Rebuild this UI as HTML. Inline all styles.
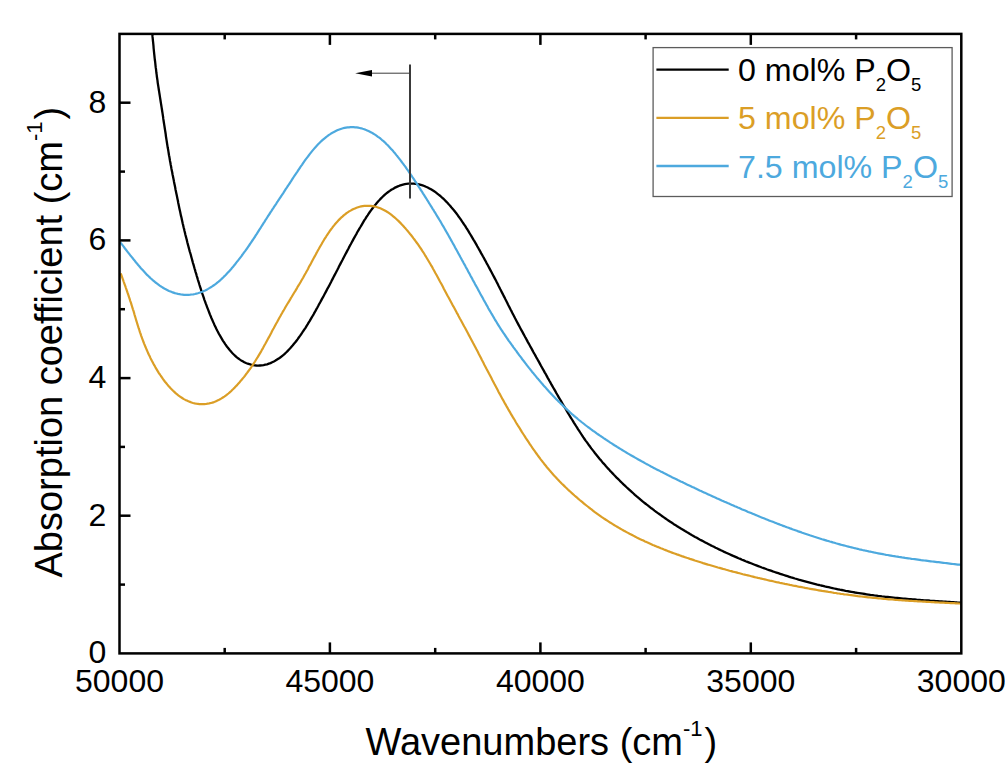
<!DOCTYPE html>
<html><head><meta charset="utf-8"><style>
html,body{margin:0;padding:0;background:#fff;}
svg{display:block;font-family:"Liberation Sans",sans-serif;}
</style></head><body>
<svg width="1005" height="778" viewBox="0 0 1005 778">
<rect width="1005" height="778" fill="#fff"/>
<g fill="none" stroke-linejoin="round" stroke-linecap="butt">
<path d="M152.4,34.5 L152.5,36.4 L152.7,38.4 L152.9,40.3 L153.1,42.2 L153.3,44.1 L153.5,46.1 L153.6,48.0 L153.8,49.9 L154.0,51.8 L154.2,53.8 L154.4,55.7 L154.6,57.6 L154.8,59.5 L155.1,61.5 L155.3,63.4 L155.5,65.3 L155.7,67.2 L156.0,69.1 L156.2,71.1 L156.4,73.0 L156.7,74.9 L156.9,76.8 L157.2,78.7 L157.5,80.6 L157.7,82.6 L158.0,84.5 L158.3,86.4 L158.6,88.3 L158.9,90.2 L159.2,92.1 L159.5,94.0 L159.8,95.9 L160.1,97.9 L160.4,99.8 L160.7,101.7 L161.0,103.6 L161.3,105.5 L161.6,107.4 L161.9,109.3 L162.2,111.2 L162.5,113.2 L162.8,115.1 L163.1,117.0 L163.3,118.9 L163.6,120.8 L163.9,122.7 L164.2,124.6 L164.5,126.5 L164.8,128.5 L165.1,130.4 L165.4,132.3 L165.7,134.2 L165.9,136.1 L166.2,138.0 L166.5,139.9 L166.8,141.8 L167.1,143.7 L167.4,145.7 L167.7,147.6 L168.1,149.5 L168.4,151.4 L168.7,153.3 L169.0,155.2 L169.4,157.1 L169.7,159.0 L170.0,160.9 L170.4,162.8 L170.7,164.7 L171.1,166.6 L171.4,168.5 L171.8,170.4 L172.2,172.3 L172.5,174.2 L172.9,176.1 L173.3,178.0 L173.7,179.9 L174.0,181.8 L174.4,183.7 L174.8,185.6 L175.2,187.5 L175.5,189.4 L175.9,191.3 L176.3,193.2 L176.7,195.1 L177.1,197.0 L177.5,198.9 L177.9,200.8 L178.2,202.7 L178.6,204.6 L179.0,206.5 L179.4,208.4 L179.8,210.2 L180.2,212.1 L180.6,214.0 L181.0,215.9 L181.5,217.8 L181.9,219.7 L182.3,221.6 L182.7,223.5 L183.2,225.4 L183.6,227.2 L184.1,229.1 L184.5,231.0 L185.0,232.9 L185.4,234.8 L185.9,236.6 L186.4,238.5 L186.9,240.4 L187.3,242.2 L187.8,244.1 L188.3,246.0 L188.8,247.9 L189.3,249.7 L189.8,251.6 L190.4,253.5 L190.9,255.3 L191.4,257.2 L191.9,259.0 L192.4,260.9 L192.9,262.8 L193.5,264.6 L194.0,266.5 L194.5,268.3 L195.1,270.2 L195.6,272.1 L196.2,273.9 L196.7,275.8 L197.3,277.6 L197.8,279.5 L198.4,281.3 L199.0,283.2 L199.5,285.0 L200.1,286.9 L200.7,288.7 L201.3,290.6 L201.9,292.4 L202.5,294.2 L203.2,296.1 L203.8,297.9 L204.4,299.8 L205.1,301.6 L205.7,303.4 L206.4,305.2 L207.1,307.1 L207.8,308.9 L208.5,310.7 L209.2,312.5 L209.9,314.4 L210.7,316.2 L211.4,318.0 L212.2,319.8 L213.0,321.6 L213.8,323.4 L214.6,325.2 L215.5,327.0 L216.3,328.7 L217.2,330.5 L218.1,332.2 L219.0,334.0 L220.0,335.7 L221.0,337.4 L222.0,339.1 L223.0,340.8 L224.1,342.4 L225.2,344.1 L226.3,345.7 L227.5,347.3 L228.7,348.8 L229.9,350.3 L231.2,351.8 L232.5,353.2 L233.8,354.5 L235.2,355.8 L236.6,357.1 L238.1,358.3 L239.6,359.4 L241.1,360.4 L242.7,361.3 L244.3,362.2 L246.0,363.0 L247.7,363.7 L249.4,364.2 L251.1,364.7 L252.9,365.1 L254.6,365.3 L256.4,365.5 L258.2,365.6 L260.0,365.5 L261.8,365.4 L263.6,365.1 L265.3,364.7 L267.1,364.3 L268.8,363.7 L270.5,363.1 L272.2,362.3 L273.9,361.5 L275.5,360.6 L277.1,359.6 L278.7,358.6 L280.2,357.5 L281.7,356.3 L283.2,355.1 L284.7,353.8 L286.1,352.5 L287.5,351.1 L288.8,349.7 L290.2,348.3 L291.5,346.8 L292.8,345.3 L294.0,343.8 L295.3,342.3 L296.5,340.7 L297.7,339.1 L298.8,337.5 L300.0,335.9 L301.1,334.3 L302.2,332.7 L303.3,331.0 L304.4,329.4 L305.5,327.8 L306.5,326.1 L307.6,324.4 L308.6,322.7 L309.6,321.1 L310.6,319.4 L311.6,317.7 L312.6,316.0 L313.6,314.3 L314.5,312.6 L315.5,310.9 L316.4,309.2 L317.4,307.5 L318.3,305.8 L319.2,304.0 L320.2,302.3 L321.1,300.6 L322.0,298.9 L323.0,297.2 L323.9,295.5 L324.8,293.8 L325.7,292.1 L326.6,290.4 L327.5,288.6 L328.5,286.9 L329.4,285.2 L330.3,283.5 L331.2,281.8 L332.0,280.1 L332.9,278.4 L333.8,276.6 L334.7,274.9 L335.6,273.2 L336.5,271.5 L337.4,269.8 L338.3,268.0 L339.1,266.3 L340.0,264.6 L340.9,262.9 L341.8,261.2 L342.7,259.5 L343.6,257.7 L344.5,256.0 L345.4,254.3 L346.3,252.6 L347.2,250.9 L348.1,249.2 L349.0,247.4 L349.9,245.7 L350.9,244.0 L351.8,242.3 L352.7,240.6 L353.6,238.9 L354.6,237.2 L355.5,235.5 L356.5,233.8 L357.4,232.0 L358.4,230.3 L359.4,228.6 L360.4,227.0 L361.4,225.3 L362.4,223.6 L363.4,221.9 L364.4,220.2 L365.5,218.6 L366.5,216.9 L367.6,215.3 L368.7,213.6 L369.8,212.0 L371.0,210.4 L372.2,208.8 L373.3,207.3 L374.5,205.7 L375.8,204.2 L377.0,202.7 L378.3,201.2 L379.7,199.8 L381.0,198.4 L382.4,197.0 L383.8,195.7 L385.2,194.4 L386.7,193.2 L388.2,192.0 L389.8,190.9 L391.3,189.8 L392.9,188.9 L394.5,187.9 L396.2,187.1 L397.8,186.4 L399.5,185.7 L401.3,185.1 L403.0,184.6 L404.8,184.2 L406.5,183.9 L408.3,183.7 L410.1,183.6 L411.9,183.6 L413.7,183.6 L415.5,183.8 L417.3,184.1 L419.0,184.4 L420.8,184.9 L422.6,185.4 L424.3,186.0 L426.0,186.8 L427.7,187.5 L429.4,188.4 L431.0,189.3 L432.6,190.3 L434.2,191.3 L435.8,192.4 L437.3,193.6 L438.9,194.8 L440.4,196.0 L441.8,197.3 L443.3,198.6 L444.7,200.0 L446.0,201.4 L447.4,202.8 L448.7,204.3 L450.1,205.7 L451.3,207.2 L452.6,208.7 L453.9,210.2 L455.1,211.8 L456.3,213.3 L457.5,214.9 L458.6,216.5 L459.8,218.1 L460.9,219.7 L462.0,221.3 L463.1,223.0 L464.2,224.6 L465.3,226.2 L466.3,227.9 L467.4,229.5 L468.4,231.2 L469.4,232.9 L470.4,234.5 L471.4,236.2 L472.4,237.9 L473.4,239.6 L474.4,241.2 L475.4,242.9 L476.4,244.6 L477.3,246.3 L478.3,248.0 L479.2,249.7 L480.2,251.4 L481.1,253.1 L482.1,254.8 L483.0,256.5 L484.0,258.2 L484.9,259.9 L485.8,261.5 L486.7,263.3 L487.7,265.0 L488.6,266.7 L489.5,268.4 L490.4,270.1 L491.3,271.8 L492.2,273.5 L493.1,275.2 L494.0,276.9 L494.9,278.6 L495.8,280.3 L496.7,282.1 L497.6,283.8 L498.4,285.5 L499.3,287.2 L500.2,289.0 L501.1,290.7 L501.9,292.4 L502.8,294.1 L503.7,295.9 L504.6,297.6 L505.4,299.3 L506.3,301.0 L507.2,302.8 L508.0,304.5 L508.9,306.2 L509.8,307.9 L510.7,309.7 L511.6,311.4 L512.4,313.1 L513.3,314.8 L514.2,316.5 L515.1,318.3 L516.0,320.0 L516.9,321.7 L517.8,323.4 L518.7,325.1 L519.6,326.8 L520.5,328.5 L521.4,330.2 L522.4,331.9 L523.3,333.6 L524.2,335.3 L525.1,337.0 L526.1,338.7 L527.0,340.4 L527.9,342.1 L528.9,343.8 L529.8,345.5 L530.7,347.2 L531.7,348.9 L532.6,350.6 L533.5,352.3 L534.5,354.0 L535.4,355.6 L536.3,357.3 L537.3,359.0 L538.2,360.7 L539.2,362.4 L540.1,364.1 L541.0,365.8 L542.0,367.5 L542.9,369.2 L543.9,370.9 L544.8,372.6 L545.8,374.2 L546.7,375.9 L547.6,377.6 L548.6,379.3 L549.5,381.0 L550.5,382.7 L551.4,384.4 L552.4,386.1 L553.3,387.7 L554.3,389.4 L555.3,391.1 L556.2,392.8 L557.2,394.5 L558.1,396.1 L559.1,397.8 L560.1,399.5 L561.1,401.2 L562.0,402.8 L563.0,404.5 L564.0,406.2 L565.0,407.8 L566.0,409.5 L566.9,411.2 L567.9,412.8 L568.9,414.5 L569.9,416.2 L570.9,417.8 L572.0,419.5 L573.0,421.1 L574.0,422.8 L575.0,424.4 L576.0,426.0 L577.1,427.7 L578.1,429.3 L579.2,430.9 L580.2,432.5 L581.3,434.2 L582.4,435.8 L583.4,437.4 L584.5,439.0 L585.6,440.6 L586.8,442.1 L587.9,443.7 L589.0,445.3 L590.2,446.8 L591.3,448.4 L592.5,449.9 L593.7,451.4 L594.9,453.0 L596.1,454.5 L597.3,456.0 L598.5,457.5 L599.7,459.0 L601.0,460.4 L602.2,461.9 L603.5,463.4 L604.8,464.8 L606.0,466.3 L607.3,467.7 L608.6,469.1 L609.9,470.6 L611.3,472.0 L612.6,473.4 L613.9,474.8 L615.3,476.2 L616.6,477.6 L618.0,478.9 L619.4,480.3 L620.7,481.7 L622.1,483.0 L623.5,484.4 L624.9,485.7 L626.3,487.0 L627.8,488.3 L629.2,489.6 L630.6,490.9 L632.0,492.2 L633.5,493.5 L634.9,494.8 L636.4,496.1 L637.9,497.3 L639.4,498.6 L640.8,499.8 L642.3,501.1 L643.8,502.3 L645.3,503.5 L646.8,504.7 L648.4,505.9 L649.9,507.1 L651.4,508.3 L653.0,509.4 L654.5,510.6 L656.1,511.8 L657.6,512.9 L659.2,514.0 L660.8,515.2 L662.3,516.3 L663.9,517.4 L665.5,518.5 L667.1,519.6 L668.7,520.7 L670.3,521.8 L671.9,522.8 L673.5,523.9 L675.2,524.9 L676.8,526.0 L678.4,527.0 L680.1,528.0 L681.7,529.1 L683.4,530.1 L685.0,531.1 L686.7,532.1 L688.4,533.0 L690.0,534.0 L691.7,535.0 L693.4,535.9 L695.1,536.9 L696.8,537.8 L698.4,538.8 L700.1,539.7 L701.9,540.6 L703.6,541.5 L705.3,542.4 L707.0,543.3 L708.7,544.2 L710.4,545.1 L712.2,546.0 L713.9,546.8 L715.6,547.7 L717.4,548.5 L719.1,549.4 L720.8,550.2 L722.6,551.0 L724.3,551.9 L726.1,552.7 L727.9,553.5 L729.6,554.3 L731.4,555.1 L733.2,555.9 L734.9,556.6 L736.7,557.4 L738.5,558.2 L740.3,558.9 L742.0,559.7 L743.8,560.4 L745.6,561.2 L747.4,561.9 L749.2,562.6 L751.0,563.3 L752.8,564.0 L754.6,564.7 L756.4,565.4 L758.2,566.1 L760.0,566.8 L761.8,567.5 L763.7,568.1 L765.5,568.8 L767.3,569.5 L769.1,570.1 L770.9,570.7 L772.8,571.4 L774.6,572.0 L776.4,572.6 L778.3,573.2 L780.1,573.8 L781.9,574.4 L783.8,575.0 L785.6,575.6 L787.5,576.2 L789.3,576.8 L791.2,577.4 L793.0,577.9 L794.9,578.5 L796.7,579.0 L798.6,579.6 L800.5,580.1 L802.3,580.6 L804.2,581.1 L806.0,581.6 L807.9,582.1 L809.8,582.6 L811.7,583.1 L813.5,583.6 L815.4,584.1 L817.3,584.6 L819.2,585.0 L821.0,585.5 L822.9,585.9 L824.8,586.4 L826.7,586.8 L828.6,587.2 L830.5,587.7 L832.4,588.1 L834.2,588.5 L836.1,588.9 L838.0,589.3 L839.9,589.7 L841.8,590.0 L843.7,590.4 L845.6,590.8 L847.5,591.1 L849.4,591.5 L851.3,591.8 L853.2,592.1 L855.1,592.5 L857.1,592.8 L859.0,593.1 L860.9,593.4 L862.8,593.7 L864.7,594.0 L866.6,594.3 L868.5,594.6 L870.4,594.9 L872.4,595.1 L874.3,595.4 L876.2,595.6 L878.1,595.9 L880.0,596.1 L881.9,596.4 L883.9,596.6 L885.8,596.8 L887.7,597.0 L889.6,597.2 L891.6,597.4 L893.5,597.6 L895.4,597.8 L897.3,598.0 L899.3,598.2 L901.2,598.4 L903.1,598.6 L905.0,598.7 L907.0,598.9 L908.9,599.1 L910.8,599.2 L912.7,599.4 L914.7,599.5 L916.6,599.7 L918.5,599.8 L920.5,600.0 L922.4,600.1 L924.3,600.3 L926.3,600.4 L928.2,600.5 L930.1,600.7 L932.0,600.8 L934.0,600.9 L935.9,601.1 L937.8,601.2 L939.8,601.3 L941.7,601.4 L943.6,601.6 L945.6,601.7 L947.5,601.8 L949.4,601.9 L951.3,602.1 L953.3,602.2 L955.2,602.3 L957.1,602.5 L959.1,602.6 L961.0,602.7" stroke="#000" stroke-width="2.3"/>
<path d="M120.7,273.4 L121.3,275.0 L121.9,276.7 L122.5,278.3 L123.1,279.9 L123.6,281.5 L124.2,283.2 L124.8,284.8 L125.4,286.4 L125.9,288.0 L126.5,289.7 L127.1,291.3 L127.6,292.9 L128.2,294.5 L128.7,296.2 L129.3,297.8 L129.8,299.4 L130.3,301.1 L130.9,302.7 L131.4,304.3 L131.9,306.0 L132.4,307.6 L132.9,309.3 L133.5,310.9 L134.0,312.6 L134.4,314.2 L134.9,315.9 L135.4,317.5 L135.9,319.2 L136.4,320.8 L136.9,322.5 L137.4,324.1 L137.9,325.8 L138.4,327.4 L139.0,329.0 L139.5,330.7 L140.0,332.3 L140.6,333.9 L141.1,335.6 L141.7,337.2 L142.3,338.8 L142.9,340.4 L143.5,342.0 L144.1,343.6 L144.8,345.2 L145.4,346.8 L146.1,348.4 L146.8,350.0 L147.5,351.6 L148.2,353.2 L148.9,354.8 L149.7,356.3 L150.4,357.9 L151.2,359.4 L152.0,361.0 L152.8,362.5 L153.6,364.1 L154.5,365.6 L155.3,367.1 L156.2,368.6 L157.1,370.1 L158.0,371.6 L158.9,373.1 L159.9,374.5 L160.9,376.0 L161.9,377.4 L162.9,378.9 L163.9,380.3 L165.0,381.7 L166.1,383.0 L167.2,384.4 L168.3,385.7 L169.5,387.0 L170.6,388.3 L171.8,389.5 L173.1,390.8 L174.3,391.9 L175.6,393.1 L176.9,394.2 L178.3,395.3 L179.7,396.3 L181.1,397.3 L182.5,398.2 L183.9,399.1 L185.4,399.9 L186.9,400.6 L188.4,401.3 L190.0,401.9 L191.5,402.5 L193.1,403.0 L194.7,403.4 L196.3,403.7 L197.9,403.9 L199.5,404.1 L201.2,404.2 L202.8,404.2 L204.4,404.1 L206.0,404.0 L207.6,403.7 L209.2,403.4 L210.8,403.0 L212.4,402.6 L214.0,402.1 L215.5,401.5 L217.0,400.8 L218.5,400.1 L220.0,399.3 L221.5,398.4 L222.9,397.5 L224.3,396.6 L225.7,395.6 L227.0,394.6 L228.4,393.5 L229.7,392.4 L231.0,391.2 L232.2,390.0 L233.5,388.8 L234.7,387.6 L235.9,386.3 L237.1,385.1 L238.2,383.8 L239.4,382.5 L240.5,381.1 L241.7,379.8 L242.8,378.4 L243.9,377.1 L245.0,375.7 L246.0,374.3 L247.1,372.9 L248.1,371.5 L249.1,370.1 L250.2,368.7 L251.2,367.3 L252.1,365.8 L253.1,364.4 L254.1,362.9 L255.0,361.5 L255.9,360.0 L256.8,358.5 L257.7,357.1 L258.6,355.6 L259.5,354.1 L260.4,352.6 L261.3,351.1 L262.1,349.6 L263.0,348.1 L263.8,346.5 L264.6,345.0 L265.5,343.5 L266.3,342.0 L267.1,340.5 L267.9,339.0 L268.8,337.4 L269.6,335.9 L270.4,334.4 L271.2,332.9 L272.0,331.3 L272.8,329.8 L273.7,328.3 L274.5,326.8 L275.3,325.3 L276.1,323.8 L277.0,322.3 L277.8,320.7 L278.6,319.2 L279.4,317.7 L280.3,316.2 L281.1,314.7 L282.0,313.2 L282.8,311.7 L283.7,310.3 L284.6,308.8 L285.4,307.3 L286.3,305.8 L287.2,304.3 L288.1,302.8 L289.0,301.4 L289.9,299.9 L290.7,298.4 L291.6,297.0 L292.5,295.5 L293.4,294.0 L294.3,292.5 L295.2,291.1 L296.1,289.6 L297.0,288.1 L297.8,286.6 L298.7,285.2 L299.6,283.7 L300.5,282.2 L301.3,280.7 L302.2,279.2 L303.1,277.7 L303.9,276.2 L304.7,274.7 L305.6,273.2 L306.4,271.7 L307.3,270.2 L308.1,268.7 L308.9,267.1 L309.7,265.6 L310.6,264.1 L311.4,262.6 L312.2,261.0 L313.0,259.5 L313.8,258.0 L314.7,256.4 L315.5,254.9 L316.3,253.4 L317.2,251.8 L318.0,250.3 L318.9,248.8 L319.7,247.3 L320.6,245.7 L321.5,244.2 L322.3,242.7 L323.2,241.2 L324.1,239.7 L325.1,238.2 L326.0,236.8 L326.9,235.3 L327.9,233.8 L328.9,232.4 L329.9,230.9 L330.9,229.5 L332.0,228.1 L333.0,226.7 L334.1,225.4 L335.2,224.0 L336.3,222.7 L337.5,221.4 L338.7,220.1 L339.9,218.9 L341.1,217.7 L342.4,216.6 L343.7,215.4 L345.0,214.4 L346.3,213.3 L347.7,212.4 L349.1,211.4 L350.6,210.6 L352.0,209.8 L353.5,209.0 L355.0,208.4 L356.5,207.8 L358.1,207.3 L359.6,206.8 L361.2,206.4 L362.8,206.1 L364.4,205.9 L366.0,205.8 L367.6,205.8 L369.2,205.8 L370.8,205.9 L372.4,206.1 L374.0,206.4 L375.6,206.8 L377.2,207.2 L378.7,207.7 L380.3,208.3 L381.8,209.0 L383.3,209.7 L384.8,210.5 L386.2,211.3 L387.7,212.2 L389.1,213.2 L390.5,214.2 L391.8,215.2 L393.2,216.3 L394.5,217.4 L395.8,218.5 L397.1,219.7 L398.4,220.9 L399.6,222.1 L400.9,223.4 L402.1,224.7 L403.3,226.0 L404.4,227.3 L405.6,228.6 L406.7,229.9 L407.9,231.3 L409.0,232.6 L410.1,234.0 L411.2,235.3 L412.3,236.7 L413.3,238.1 L414.4,239.5 L415.4,240.9 L416.4,242.3 L417.5,243.7 L418.5,245.1 L419.5,246.6 L420.4,248.0 L421.4,249.4 L422.3,250.9 L423.3,252.3 L424.2,253.8 L425.1,255.3 L426.0,256.7 L426.9,258.2 L427.8,259.7 L428.7,261.2 L429.6,262.7 L430.5,264.2 L431.3,265.7 L432.2,267.1 L433.0,268.7 L433.9,270.2 L434.7,271.7 L435.5,273.2 L436.4,274.7 L437.2,276.2 L438.0,277.7 L438.8,279.2 L439.6,280.8 L440.4,282.3 L441.3,283.8 L442.1,285.3 L442.9,286.8 L443.7,288.4 L444.5,289.9 L445.3,291.4 L446.1,292.9 L446.9,294.4 L447.7,296.0 L448.6,297.5 L449.4,299.0 L450.2,300.5 L451.0,302.0 L451.8,303.5 L452.6,305.1 L453.5,306.6 L454.3,308.1 L455.1,309.6 L455.9,311.1 L456.7,312.6 L457.6,314.1 L458.4,315.7 L459.2,317.2 L460.0,318.7 L460.9,320.2 L461.7,321.7 L462.5,323.2 L463.3,324.7 L464.1,326.3 L465.0,327.8 L465.8,329.3 L466.6,330.8 L467.4,332.3 L468.2,333.8 L469.0,335.4 L469.9,336.9 L470.7,338.4 L471.5,339.9 L472.3,341.4 L473.1,343.0 L473.9,344.5 L474.7,346.0 L475.5,347.5 L476.3,349.1 L477.1,350.6 L477.9,352.1 L478.7,353.7 L479.5,355.2 L480.3,356.7 L481.1,358.3 L481.8,359.8 L482.6,361.3 L483.4,362.8 L484.2,364.4 L485.0,365.9 L485.8,367.4 L486.6,369.0 L487.4,370.5 L488.2,372.0 L489.0,373.6 L489.8,375.1 L490.6,376.6 L491.4,378.1 L492.2,379.7 L493.0,381.2 L493.8,382.7 L494.6,384.3 L495.4,385.8 L496.2,387.3 L497.0,388.8 L497.8,390.3 L498.6,391.9 L499.4,393.4 L500.3,394.9 L501.1,396.4 L501.9,397.9 L502.7,399.4 L503.6,400.9 L504.4,402.4 L505.2,403.9 L506.1,405.4 L506.9,406.9 L507.8,408.4 L508.6,409.9 L509.5,411.4 L510.4,412.9 L511.2,414.4 L512.1,415.9 L513.0,417.4 L513.9,418.8 L514.8,420.3 L515.6,421.8 L516.5,423.3 L517.4,424.7 L518.3,426.2 L519.3,427.7 L520.2,429.1 L521.1,430.6 L522.0,432.1 L522.9,433.5 L523.9,435.0 L524.8,436.4 L525.7,437.9 L526.7,439.3 L527.6,440.7 L528.6,442.2 L529.5,443.6 L530.5,445.0 L531.5,446.5 L532.4,447.9 L533.4,449.3 L534.4,450.7 L535.4,452.1 L536.4,453.5 L537.4,454.9 L538.4,456.3 L539.5,457.7 L540.5,459.1 L541.5,460.4 L542.6,461.8 L543.7,463.1 L544.7,464.5 L545.8,465.8 L546.9,467.2 L548.0,468.5 L549.1,469.8 L550.2,471.1 L551.4,472.4 L552.5,473.7 L553.6,475.0 L554.8,476.3 L556.0,477.5 L557.1,478.8 L558.3,480.0 L559.5,481.3 L560.7,482.5 L561.9,483.7 L563.2,484.9 L564.4,486.1 L565.6,487.3 L566.9,488.5 L568.1,489.7 L569.4,490.9 L570.7,492.0 L571.9,493.2 L573.2,494.3 L574.5,495.5 L575.8,496.6 L577.1,497.7 L578.4,498.9 L579.7,500.0 L581.1,501.1 L582.4,502.2 L583.7,503.3 L585.0,504.4 L586.4,505.5 L587.7,506.5 L589.1,507.6 L590.4,508.7 L591.8,509.7 L593.2,510.8 L594.5,511.8 L595.9,512.8 L597.3,513.8 L598.7,514.8 L600.1,515.8 L601.5,516.8 L603.0,517.8 L604.4,518.8 L605.8,519.7 L607.3,520.7 L608.7,521.6 L610.1,522.5 L611.6,523.4 L613.1,524.4 L614.5,525.3 L616.0,526.1 L617.5,527.0 L619.0,527.9 L620.5,528.8 L622.0,529.6 L623.5,530.5 L625.0,531.3 L626.5,532.1 L628.0,532.9 L629.5,533.7 L631.1,534.5 L632.6,535.3 L634.1,536.1 L635.7,536.9 L637.2,537.7 L638.7,538.4 L640.3,539.2 L641.9,539.9 L643.4,540.6 L645.0,541.4 L646.5,542.1 L648.1,542.8 L649.7,543.5 L651.3,544.2 L652.8,544.9 L654.4,545.6 L656.0,546.2 L657.6,546.9 L659.2,547.5 L660.8,548.2 L662.4,548.8 L664.0,549.5 L665.6,550.1 L667.2,550.7 L668.8,551.4 L670.4,552.0 L672.0,552.6 L673.7,553.2 L675.3,553.8 L676.9,554.4 L678.5,554.9 L680.1,555.5 L681.8,556.1 L683.4,556.6 L685.0,557.2 L686.7,557.8 L688.3,558.3 L689.9,558.9 L691.6,559.4 L693.2,559.9 L694.8,560.5 L696.5,561.0 L698.1,561.5 L699.8,562.0 L701.4,562.5 L703.1,563.1 L704.7,563.6 L706.3,564.1 L708.0,564.6 L709.6,565.0 L711.3,565.5 L713.0,566.0 L714.6,566.5 L716.3,567.0 L717.9,567.5 L719.6,567.9 L721.2,568.4 L722.9,568.9 L724.6,569.3 L726.2,569.8 L727.9,570.2 L729.5,570.7 L731.2,571.1 L732.9,571.6 L734.5,572.0 L736.2,572.4 L737.9,572.9 L739.5,573.3 L741.2,573.7 L742.9,574.2 L744.6,574.6 L746.2,575.0 L747.9,575.4 L749.6,575.8 L751.2,576.2 L752.9,576.6 L754.6,577.1 L756.3,577.5 L757.9,577.9 L759.6,578.2 L761.3,578.6 L763.0,579.0 L764.7,579.4 L766.3,579.8 L768.0,580.2 L769.7,580.6 L771.4,580.9 L773.1,581.3 L774.7,581.7 L776.4,582.1 L778.1,582.4 L779.8,582.8 L781.5,583.1 L783.2,583.5 L784.9,583.9 L786.5,584.2 L788.2,584.5 L789.9,584.9 L791.6,585.2 L793.3,585.6 L795.0,585.9 L796.7,586.2 L798.4,586.6 L800.1,586.9 L801.8,587.2 L803.4,587.5 L805.1,587.9 L806.8,588.2 L808.5,588.5 L810.2,588.8 L811.9,589.1 L813.6,589.4 L815.3,589.7 L817.0,590.0 L818.7,590.3 L820.4,590.6 L822.1,590.9 L823.8,591.1 L825.5,591.4 L827.2,591.7 L828.9,592.0 L830.6,592.2 L832.3,592.5 L834.0,592.8 L835.7,593.0 L837.4,593.3 L839.1,593.5 L840.8,593.8 L842.5,594.0 L844.2,594.3 L846.0,594.5 L847.7,594.7 L849.4,595.0 L851.1,595.2 L852.8,595.4 L854.5,595.6 L856.2,595.8 L857.9,596.1 L859.6,596.3 L861.3,596.5 L863.0,596.7 L864.8,596.9 L866.5,597.1 L868.2,597.3 L869.9,597.4 L871.6,597.6 L873.3,597.8 L875.0,598.0 L876.8,598.1 L878.5,598.3 L880.2,598.5 L881.9,598.6 L883.6,598.8 L885.3,599.0 L887.0,599.1 L888.8,599.3 L890.5,599.4 L892.2,599.5 L893.9,599.7 L895.6,599.8 L897.3,600.0 L899.1,600.1 L900.8,600.2 L902.5,600.3 L904.2,600.5 L905.9,600.6 L907.7,600.7 L909.4,600.8 L911.1,600.9 L912.8,601.0 L914.5,601.1 L916.3,601.2 L918.0,601.3 L919.7,601.4 L921.4,601.5 L923.1,601.6 L924.9,601.7 L926.6,601.8 L928.3,601.9 L930.0,602.0 L931.7,602.1 L933.5,602.2 L935.2,602.3 L936.9,602.4 L938.6,602.5 L940.3,602.6 L942.1,602.6 L943.8,602.7 L945.5,602.8 L947.2,602.9 L949.0,603.0 L950.7,603.1 L952.4,603.1 L954.1,603.2 L955.8,603.3 L957.6,603.4 L959.3,603.5 L961.0,603.6" stroke="#DB9E26" stroke-width="2.2"/>
<path d="M120.3,242.3 L121.3,243.6 L122.3,244.9 L123.3,246.2 L124.3,247.5 L125.2,248.8 L126.2,250.0 L127.2,251.3 L128.2,252.6 L129.2,253.9 L130.2,255.2 L131.2,256.4 L132.3,257.7 L133.3,259.0 L134.3,260.2 L135.3,261.5 L136.3,262.8 L137.4,264.0 L138.4,265.3 L139.5,266.5 L140.5,267.7 L141.6,268.9 L142.7,270.1 L143.8,271.3 L144.9,272.5 L146.0,273.7 L147.1,274.9 L148.3,276.0 L149.5,277.1 L150.6,278.2 L151.8,279.3 L153.0,280.4 L154.3,281.4 L155.5,282.5 L156.8,283.4 L158.1,284.4 L159.4,285.4 L160.7,286.3 L162.1,287.1 L163.4,288.0 L164.8,288.8 L166.2,289.5 L167.6,290.2 L169.0,290.9 L170.5,291.5 L172.0,292.1 L173.4,292.6 L174.9,293.1 L176.4,293.5 L178.0,293.9 L179.5,294.2 L181.0,294.5 L182.5,294.6 L184.1,294.8 L185.6,294.8 L187.2,294.8 L188.7,294.8 L190.3,294.7 L191.8,294.5 L193.3,294.3 L194.9,294.0 L196.4,293.6 L197.9,293.2 L199.4,292.7 L200.9,292.2 L202.3,291.7 L203.8,291.0 L205.2,290.4 L206.7,289.7 L208.1,288.9 L209.4,288.1 L210.8,287.3 L212.2,286.4 L213.5,285.5 L214.8,284.6 L216.1,283.6 L217.3,282.6 L218.6,281.6 L219.8,280.6 L221.0,279.5 L222.2,278.4 L223.4,277.3 L224.5,276.1 L225.7,275.0 L226.8,273.8 L227.9,272.6 L229.0,271.4 L230.1,270.2 L231.2,269.0 L232.2,267.7 L233.3,266.5 L234.3,265.2 L235.3,264.0 L236.3,262.7 L237.3,261.4 L238.3,260.2 L239.3,258.9 L240.3,257.6 L241.3,256.3 L242.2,255.0 L243.2,253.7 L244.1,252.4 L245.1,251.1 L246.0,249.8 L247.0,248.5 L247.9,247.2 L248.8,245.8 L249.7,244.5 L250.6,243.2 L251.5,241.8 L252.4,240.5 L253.3,239.2 L254.2,237.8 L255.1,236.5 L255.9,235.1 L256.8,233.8 L257.7,232.4 L258.5,231.1 L259.4,229.7 L260.3,228.4 L261.1,227.0 L262.0,225.6 L262.8,224.3 L263.7,222.9 L264.6,221.6 L265.4,220.2 L266.3,218.9 L267.2,217.5 L268.0,216.2 L268.9,214.8 L269.8,213.5 L270.6,212.1 L271.5,210.8 L272.4,209.4 L273.3,208.1 L274.2,206.7 L275.1,205.4 L276.0,204.1 L276.8,202.7 L277.7,201.4 L278.6,200.0 L279.5,198.7 L280.4,197.3 L281.3,196.0 L282.2,194.6 L283.1,193.3 L284.0,191.9 L284.8,190.6 L285.7,189.2 L286.6,187.9 L287.5,186.5 L288.4,185.2 L289.3,183.8 L290.2,182.5 L291.1,181.1 L292.0,179.7 L292.8,178.4 L293.7,177.0 L294.6,175.6 L295.5,174.3 L296.5,172.9 L297.4,171.6 L298.3,170.2 L299.2,168.8 L300.1,167.5 L301.0,166.1 L302.0,164.8 L302.9,163.4 L303.8,162.1 L304.8,160.7 L305.7,159.4 L306.7,158.1 L307.7,156.8 L308.7,155.5 L309.7,154.2 L310.7,152.9 L311.7,151.6 L312.7,150.4 L313.8,149.1 L314.8,147.9 L315.9,146.7 L317.0,145.5 L318.1,144.3 L319.2,143.2 L320.4,142.0 L321.6,140.9 L322.7,139.9 L324.0,138.8 L325.2,137.8 L326.4,136.8 L327.7,135.9 L329.0,134.9 L330.3,134.1 L331.6,133.2 L333.0,132.4 L334.4,131.7 L335.8,131.0 L337.2,130.3 L338.6,129.7 L340.0,129.2 L341.5,128.7 L343.0,128.3 L344.5,127.9 L346.0,127.6 L347.5,127.4 L349.0,127.3 L350.5,127.2 L352.1,127.1 L353.6,127.2 L355.1,127.3 L356.6,127.4 L358.2,127.7 L359.7,128.0 L361.2,128.3 L362.7,128.8 L364.2,129.2 L365.6,129.8 L367.1,130.4 L368.5,131.0 L369.9,131.7 L371.3,132.4 L372.7,133.2 L374.1,134.1 L375.4,134.9 L376.7,135.8 L378.0,136.8 L379.3,137.7 L380.6,138.7 L381.8,139.8 L383.1,140.8 L384.3,141.9 L385.5,143.0 L386.6,144.2 L387.8,145.3 L388.9,146.5 L390.0,147.7 L391.1,148.9 L392.2,150.1 L393.3,151.3 L394.3,152.6 L395.4,153.8 L396.4,155.1 L397.4,156.3 L398.4,157.6 L399.4,158.9 L400.4,160.2 L401.4,161.5 L402.4,162.8 L403.4,164.1 L404.3,165.4 L405.3,166.7 L406.2,168.0 L407.1,169.4 L408.1,170.7 L409.0,172.0 L409.9,173.3 L410.8,174.7 L411.7,176.0 L412.6,177.4 L413.5,178.7 L414.4,180.0 L415.3,181.4 L416.2,182.7 L417.1,184.1 L417.9,185.4 L418.8,186.8 L419.7,188.1 L420.5,189.5 L421.4,190.8 L422.3,192.2 L423.1,193.6 L424.0,194.9 L424.9,196.3 L425.7,197.6 L426.6,199.0 L427.4,200.4 L428.3,201.7 L429.1,203.1 L430.0,204.5 L430.8,205.8 L431.7,207.2 L432.5,208.6 L433.4,209.9 L434.2,211.3 L435.1,212.7 L435.9,214.0 L436.7,215.4 L437.6,216.8 L438.4,218.1 L439.2,219.5 L440.1,220.9 L440.9,222.3 L441.7,223.7 L442.5,225.1 L443.3,226.4 L444.1,227.8 L444.9,229.2 L445.7,230.6 L446.5,232.0 L447.3,233.4 L448.1,234.8 L448.9,236.2 L449.7,237.6 L450.5,239.0 L451.2,240.4 L452.0,241.8 L452.8,243.2 L453.6,244.6 L454.4,246.1 L455.1,247.5 L455.9,248.9 L456.7,250.3 L457.5,251.7 L458.2,253.1 L459.0,254.5 L459.8,255.9 L460.5,257.3 L461.3,258.7 L462.1,260.2 L462.9,261.6 L463.6,263.0 L464.4,264.4 L465.2,265.8 L465.9,267.2 L466.7,268.6 L467.5,270.1 L468.2,271.5 L469.0,272.9 L469.8,274.3 L470.5,275.7 L471.3,277.1 L472.1,278.5 L472.8,280.0 L473.6,281.4 L474.4,282.8 L475.1,284.2 L475.9,285.6 L476.7,287.0 L477.5,288.4 L478.2,289.9 L479.0,291.3 L479.8,292.7 L480.5,294.1 L481.3,295.5 L482.1,296.9 L482.9,298.3 L483.6,299.7 L484.4,301.1 L485.2,302.5 L486.0,303.9 L486.8,305.4 L487.6,306.8 L488.3,308.2 L489.1,309.6 L489.9,310.9 L490.7,312.3 L491.5,313.7 L492.4,315.1 L493.2,316.5 L494.0,317.9 L494.8,319.3 L495.6,320.6 L496.5,322.0 L497.3,323.4 L498.2,324.8 L499.0,326.1 L499.9,327.5 L500.7,328.8 L501.6,330.2 L502.5,331.5 L503.4,332.9 L504.3,334.2 L505.2,335.5 L506.1,336.8 L507.0,338.2 L507.9,339.5 L508.8,340.8 L509.8,342.1 L510.7,343.4 L511.6,344.7 L512.6,346.0 L513.5,347.3 L514.5,348.6 L515.4,349.9 L516.4,351.2 L517.3,352.5 L518.3,353.8 L519.2,355.1 L520.2,356.4 L521.2,357.7 L522.1,359.0 L523.1,360.3 L524.1,361.5 L525.1,362.8 L526.1,364.1 L527.0,365.4 L528.0,366.6 L529.0,367.9 L530.0,369.1 L531.0,370.4 L532.0,371.7 L533.1,372.9 L534.1,374.2 L535.1,375.4 L536.1,376.6 L537.1,377.9 L538.2,379.1 L539.2,380.3 L540.3,381.6 L541.3,382.8 L542.4,384.0 L543.4,385.2 L544.5,386.4 L545.6,387.6 L546.6,388.8 L547.7,390.0 L548.8,391.2 L549.9,392.4 L551.0,393.6 L552.1,394.7 L553.2,395.9 L554.3,397.1 L555.4,398.2 L556.5,399.4 L557.7,400.5 L558.8,401.7 L560.0,402.8 L561.1,403.9 L562.3,405.0 L563.4,406.1 L564.6,407.3 L565.8,408.4 L566.9,409.4 L568.1,410.5 L569.3,411.6 L570.5,412.7 L571.7,413.8 L572.9,414.8 L574.1,415.9 L575.3,416.9 L576.6,417.9 L577.8,419.0 L579.0,420.0 L580.3,421.0 L581.5,422.0 L582.8,423.0 L584.1,424.0 L585.3,425.0 L586.6,426.0 L587.9,427.0 L589.2,427.9 L590.5,428.9 L591.8,429.8 L593.1,430.8 L594.4,431.7 L595.7,432.6 L597.0,433.6 L598.3,434.5 L599.6,435.4 L601.0,436.3 L602.3,437.2 L603.6,438.1 L605.0,439.0 L606.3,439.9 L607.7,440.8 L609.0,441.7 L610.3,442.6 L611.7,443.4 L613.0,444.3 L614.4,445.2 L615.8,446.0 L617.1,446.9 L618.5,447.7 L619.9,448.6 L621.2,449.4 L622.6,450.3 L624.0,451.1 L625.3,451.9 L626.7,452.8 L628.1,453.6 L629.5,454.4 L630.9,455.2 L632.3,456.0 L633.7,456.8 L635.1,457.6 L636.5,458.4 L637.9,459.2 L639.3,460.0 L640.7,460.8 L642.1,461.6 L643.5,462.3 L644.9,463.1 L646.3,463.9 L647.7,464.6 L649.2,465.4 L650.6,466.2 L652.0,466.9 L653.4,467.7 L654.8,468.4 L656.3,469.2 L657.7,469.9 L659.1,470.6 L660.6,471.4 L662.0,472.1 L663.4,472.8 L664.9,473.6 L666.3,474.3 L667.7,475.0 L669.2,475.7 L670.6,476.4 L672.0,477.2 L673.5,477.9 L674.9,478.6 L676.4,479.3 L677.8,480.0 L679.3,480.7 L680.7,481.4 L682.2,482.1 L683.6,482.8 L685.1,483.5 L686.5,484.2 L688.0,484.9 L689.4,485.6 L690.9,486.3 L692.3,487.0 L693.8,487.6 L695.2,488.3 L696.7,489.0 L698.2,489.7 L699.6,490.4 L701.1,491.0 L702.5,491.7 L704.0,492.4 L705.5,493.1 L706.9,493.7 L708.4,494.4 L709.8,495.1 L711.3,495.7 L712.8,496.4 L714.2,497.1 L715.7,497.7 L717.2,498.4 L718.6,499.0 L720.1,499.7 L721.6,500.4 L723.0,501.0 L724.5,501.7 L726.0,502.3 L727.5,503.0 L728.9,503.6 L730.4,504.3 L731.9,504.9 L733.4,505.5 L734.8,506.2 L736.3,506.8 L737.8,507.5 L739.3,508.1 L740.7,508.7 L742.2,509.4 L743.7,510.0 L745.2,510.6 L746.7,511.2 L748.1,511.9 L749.6,512.5 L751.1,513.1 L752.6,513.7 L754.1,514.3 L755.6,514.9 L757.1,515.6 L758.6,516.2 L760.0,516.8 L761.5,517.4 L763.0,518.0 L764.5,518.6 L766.0,519.2 L767.5,519.8 L769.0,520.4 L770.5,521.0 L772.0,521.5 L773.5,522.1 L775.0,522.7 L776.5,523.3 L778.0,523.9 L779.5,524.4 L781.0,525.0 L782.5,525.6 L784.0,526.1 L785.5,526.7 L787.0,527.3 L788.5,527.8 L790.1,528.4 L791.6,528.9 L793.1,529.5 L794.6,530.0 L796.1,530.5 L797.6,531.1 L799.1,531.6 L800.7,532.1 L802.2,532.7 L803.7,533.2 L805.2,533.7 L806.7,534.2 L808.3,534.7 L809.8,535.3 L811.3,535.8 L812.9,536.3 L814.4,536.8 L815.9,537.2 L817.4,537.7 L819.0,538.2 L820.5,538.7 L822.1,539.2 L823.6,539.6 L825.1,540.1 L826.7,540.6 L828.2,541.0 L829.8,541.5 L831.3,541.9 L832.8,542.4 L834.4,542.8 L835.9,543.3 L837.5,543.7 L839.0,544.1 L840.6,544.6 L842.1,545.0 L843.7,545.4 L845.3,545.8 L846.8,546.2 L848.4,546.6 L849.9,547.0 L851.5,547.4 L853.1,547.8 L854.6,548.2 L856.2,548.5 L857.7,548.9 L859.3,549.3 L860.9,549.6 L862.4,550.0 L864.0,550.3 L865.6,550.7 L867.2,551.0 L868.7,551.4 L870.3,551.7 L871.9,552.0 L873.5,552.3 L875.0,552.7 L876.6,553.0 L878.2,553.3 L879.8,553.6 L881.3,553.9 L882.9,554.2 L884.5,554.5 L886.1,554.8 L887.7,555.0 L889.3,555.3 L890.8,555.6 L892.4,555.9 L894.0,556.1 L895.6,556.4 L897.2,556.6 L898.8,556.9 L900.4,557.1 L902.0,557.4 L903.6,557.6 L905.1,557.9 L906.7,558.1 L908.3,558.3 L909.9,558.5 L911.5,558.8 L913.1,559.0 L914.7,559.2 L916.3,559.4 L917.9,559.6 L919.5,559.8 L921.1,560.1 L922.7,560.3 L924.3,560.5 L925.9,560.7 L927.5,560.9 L929.1,561.1 L930.7,561.3 L932.3,561.5 L933.8,561.7 L935.4,561.9 L937.0,562.1 L938.6,562.2 L940.2,562.4 L941.8,562.6 L943.4,562.8 L945.0,563.0 L946.6,563.2 L948.2,563.4 L949.8,563.6 L951.4,563.8 L953.0,564.0 L954.6,564.2 L956.2,564.4 L957.8,564.6 L959.4,564.7 L961.0,564.9" stroke="#4DA9DE" stroke-width="2.2"/>
</g>
<g stroke="#3a3a3a" fill="none">
<line x1="410" y1="64.5" x2="410" y2="198.5" stroke-width="2"/>
<line x1="409.9" y1="73.2" x2="368" y2="73.2" stroke-width="1.0"/>
</g>
<polygon points="355.2,73.2 372,69.9 372,76.6" fill="#000"/>
<rect x="653.1" y="47.6" width="299" height="148.9" fill="#fff" stroke="#5c5c5c" stroke-width="1.3"/>
<g stroke-width="2.3">
<line x1="656.4" y1="69.6" x2="728.7" y2="69.6" stroke="#000"/>
<line x1="656.4" y1="117.8" x2="728.7" y2="117.8" stroke="#DB9E26"/>
<line x1="656.4" y1="166" x2="728.7" y2="166" stroke="#4DA9DE"/>
</g>
<g font-size="32.2">
<text x="738" y="80.8" fill="#000">0 mol% P<tspan font-size="18.5" dy="10.6">2</tspan><tspan dy="-10.6">O</tspan><tspan font-size="18.5" dy="10.6">5</tspan></text>
<text x="738" y="128.6" fill="#DB9E26">5 mol% P<tspan font-size="18.5" dy="10.6">2</tspan><tspan dy="-10.6">O</tspan><tspan font-size="18.5" dy="10.6">5</tspan></text>
<text x="738" y="177.8" fill="#4DA9DE">7.5 mol% P<tspan font-size="18.5" dy="10.6">2</tspan><tspan dy="-10.6">O</tspan><tspan font-size="18.5" dy="10.6">5</tspan></text>
</g>
<g stroke="#000" stroke-width="2.5" fill="none">
<rect x="119.5" y="33.9" width="841.8" height="619.5"/>
<line x1="224.7" y1="653.4" x2="224.7" y2="647.9"/><line x1="224.7" y1="33.9" x2="224.7" y2="39.4"/><line x1="329.9" y1="653.4" x2="329.9" y2="642.4"/><line x1="329.9" y1="33.9" x2="329.9" y2="44.9"/><line x1="435.2" y1="653.4" x2="435.2" y2="647.9"/><line x1="435.2" y1="33.9" x2="435.2" y2="39.4"/><line x1="540.4" y1="653.4" x2="540.4" y2="642.4"/><line x1="540.4" y1="33.9" x2="540.4" y2="44.9"/><line x1="645.6" y1="653.4" x2="645.6" y2="647.9"/><line x1="645.6" y1="33.9" x2="645.6" y2="39.4"/><line x1="750.8" y1="653.4" x2="750.8" y2="642.4"/><line x1="750.8" y1="33.9" x2="750.8" y2="44.9"/><line x1="856.1" y1="653.4" x2="856.1" y2="647.9"/><line x1="856.1" y1="33.9" x2="856.1" y2="39.4"/><line x1="119.5" y1="584.6" x2="125.0" y2="584.6"/><line x1="119.5" y1="515.7" x2="130.5" y2="515.7"/><line x1="119.5" y1="446.9" x2="125.0" y2="446.9"/><line x1="119.5" y1="378.1" x2="130.5" y2="378.1"/><line x1="119.5" y1="309.2" x2="125.0" y2="309.2"/><line x1="119.5" y1="240.4" x2="130.5" y2="240.4"/><line x1="119.5" y1="171.6" x2="125.0" y2="171.6"/><line x1="119.5" y1="102.7" x2="130.5" y2="102.7"/>
</g>
<g font-size="32" fill="#000">
<text x="119.5" y="691.8" text-anchor="middle">50000</text><text x="329.9" y="691.8" text-anchor="middle">45000</text><text x="540.4" y="691.8" text-anchor="middle">40000</text><text x="750.8" y="691.8" text-anchor="middle">35000</text><text x="961.3" y="691.8" text-anchor="middle">30000</text>
<text x="106.3" y="663.4" text-anchor="end">0</text><text x="106.3" y="525.7" text-anchor="end">2</text><text x="106.3" y="388.1" text-anchor="end">4</text><text x="106.3" y="250.4" text-anchor="end">6</text><text x="106.3" y="112.7" text-anchor="end">8</text>
</g>
<g font-size="38" fill="#000">
<text x="365.5" y="755">Wavenumbers (cm<tspan font-size="22" dy="-19">-1</tspan><tspan dx="2" dy="19">)</tspan></text>
<text transform="translate(61.5,577.5) rotate(-90)">Absorption coefficient (cm<tspan font-size="22" dy="-19.5">-1</tspan><tspan dx="2" dy="19.5">)</tspan></text>
</g>
</svg>
</body></html>
